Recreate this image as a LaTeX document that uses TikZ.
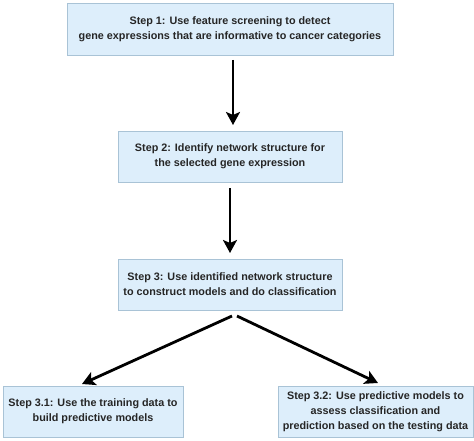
\documentclass[tikz,border=0pt]{standalone}
\usepackage{fontspec}
\setmainfont{Liberation Sans}
\usetikzlibrary{arrows.meta}
\definecolor{boxfill}{HTML}{DDEEFB}
\definecolor{boxline}{HTML}{A9C3D6}
\tikzset{
  stepbox/.style={draw=boxline, fill=boxfill, line width=0.8pt, align=center,
    font=\fontsize{10.8}{15}\selectfont\bfseries, inner sep=0pt, text=black!85},
  flow/.style={-{Stealth[length=13pt,width=14pt,inset=3pt]}, line width=2.8pt, black}
}
\begin{document}
\begin{tikzpicture}[x=1pt,y=-1pt]
\useasboundingbox (0,0) rectangle (474,441);
\node[stepbox, minimum width=326pt, minimum height=52pt] (s1) at (230,29)
  {Step 1: Use feature screening to detect\\gene expressions that are informative to cancer categories};
\node[stepbox, minimum width=224pt, minimum height=51pt] (s2) at (230,156.5)
  {Step 2: Identify network structure for\\the selected gene expression};
\node[stepbox, minimum width=224pt, minimum height=51pt] (s3) at (230,284.5)
  {Step 3: Use identified network structure\\to construct models and do classification};
\node[stepbox, minimum width=180pt, minimum height=51pt] (s31) at (93,411.5)
  {Step 3.1: Use the training data to\\build predictive models};
\node[stepbox, minimum width=195pt, minimum height=51pt] (s32) at (375.5,411.5)
  {Step 3.2: Use predictive models to\\assess classification and\\prediction based on the testing data};
\coordinate (a1s) at (233,60);
\coordinate (a1e) at (233,125);
\coordinate (a2s) at (230,188);
\coordinate (a2e) at (230,253);
\coordinate (a3s) at (232,316);
\coordinate (a4s) at (237,316);
\coordinate (a3e) at (82,384);
\coordinate (a4e) at (378,383);
\draw[flow] (a1s) -- (a1e);
\draw[flow] (a2s) -- (a2e);
\draw[flow] (a3s) -- (a3e);
\draw[flow] (a4s) -- (a4e);
\end{tikzpicture}
\end{document}
